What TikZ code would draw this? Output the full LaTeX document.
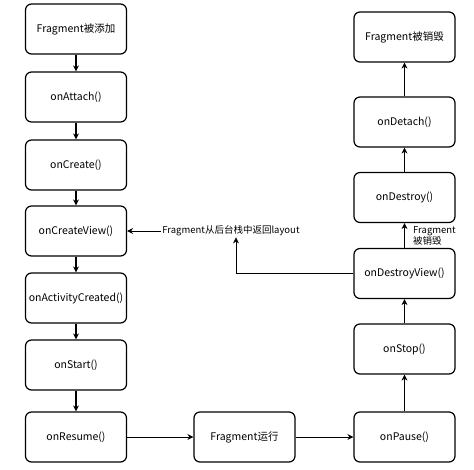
\documentclass[tikz,border=0pt]{standalone}
\usepackage{fontspec}
\setmainfont{Noto Sans CJK SC}
\usetikzlibrary{arrows.meta}

\begin{document}
\begin{tikzpicture}[x=1pt, y=-1pt,
    main/.style = {draw, line width=1.2pt, rounded corners=6pt, minimum width=101pt, minimum height=50pt, inner sep=0pt, font=\fontsize{10.5}{12}\selectfont},
    thick arrow/.style = {-{Stealth[length=6pt,width=6pt]}, line width=1.4pt},
    thin arrow/.style = {-{Stealth[length=6pt,width=6pt]}, line width=0.8pt}]
	\useasboundingbox (0,0) rectangle (474,469);
	\node[main] (add) at (76, 29){Fragment被添加};
	\node[main] (attach) at (76, 97){onAttach()};
	\node[main] (create) at (76, 165){onCreate()};
	\node[main] (cview) at (76, 231){onCreateView()};
	\node[main] (acreated) at (76, 298){onActivityCreated()};
	\node[main] (start) at (76, 365){onStart()};
	\node[main] (resume) at (76, 437){onResume()};
	\node[main] (run) at (244.5, 437){Fragment运行};
	\node[main] (pause) at (404.5, 437){onPause()};
	\node[main] (stop) at (404.5, 349){onStop()};
	\node[main] (dview) at (404.5, 273.5){onDestroyView()};
	\node[main] (destroy) at (404.5, 197.5){onDestroy()};
	\node[main] (detach) at (404.5, 122){onDetach()};
	\node[main] (gone) at (404.5, 37){Fragment被销毁};
	\node[font=\fontsize{9.5}{11}\selectfont, inner sep=1pt] (ret) at (231, 231){Fragment从后台栈中返回layout};
	\node[font=\fontsize{9.5}{10}\selectfont, align=left, inner sep=0pt, anchor=west] (gonelbl) at (413, 236){Fragment\\被销毁};
	\draw[thick arrow] (add) -- (attach);
	\draw[thick arrow] (attach) -- (create);
	\draw[thick arrow] (create) -- (cview);
	\draw[thick arrow] (cview) -- (acreated);
	\draw[thick arrow] (acreated) -- (start);
	\draw[thick arrow] (start) -- (resume);
	\draw[thin arrow] (resume) -- (run);
	\draw[thin arrow] (run) -- (pause);
	\draw[thin arrow] (pause) -- (stop);
	\draw[thin arrow] (stop) -- (dview);
	\draw[thin arrow] (dview) -- (destroy);
	\draw[thin arrow] (destroy) -- (detach);
	\draw[thin arrow] (detach) -- (gone);
	\draw[thin arrow] (ret) -- (cview);
	\draw[thin arrow] (dview.west) -| ([xshift=5pt]ret.south);
\end{tikzpicture}
\end{document}
